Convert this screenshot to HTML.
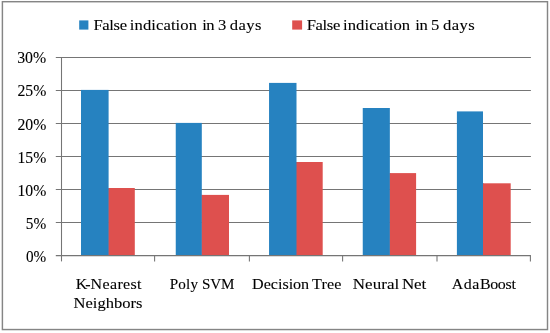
<!DOCTYPE html><html><head><meta charset="utf-8"><title>chart</title><style>html,body{margin:0;padding:0;background:#fff}svg{display:block}text{font-family:"Liberation Serif",serif;fill:#000;stroke:#000;stroke-width:0.1}</style></head><body>
<svg width="550" height="333" viewBox="0 0 550 333">
<rect width="550" height="333" fill="#fff"/>
<rect x="2.4" y="1.7" width="545.1" height="327.85" fill="#fff" stroke="#858585" stroke-width="1.45"/>
<line x1="55.8" y1="222.57" x2="530.9" y2="222.57" stroke="#757575" stroke-width="1.08"/>
<line x1="55.8" y1="189.54" x2="530.9" y2="189.54" stroke="#757575" stroke-width="1.08"/>
<line x1="55.8" y1="156.51" x2="530.9" y2="156.51" stroke="#757575" stroke-width="1.08"/>
<line x1="55.8" y1="123.48" x2="530.9" y2="123.48" stroke="#757575" stroke-width="1.08"/>
<line x1="55.8" y1="90.45" x2="530.9" y2="90.45" stroke="#757575" stroke-width="1.08"/>
<line x1="55.8" y1="57.42" x2="530.9" y2="57.42" stroke="#757575" stroke-width="1.08"/>
<rect x="81.0" y="89.9" width="27.60" height="165.70" fill="#2682c0"/>
<rect x="108.1" y="188.0" width="1.2" height="67.60" fill="#2682c0"/>
<rect x="108.6" y="188.0" width="26.20" height="67.60" fill="#de504e"/>
<rect x="175.75" y="122.9" width="26.05" height="132.70" fill="#2682c0"/>
<rect x="201.3" y="194.9" width="1.2" height="60.70" fill="#2682c0"/>
<rect x="201.8" y="194.9" width="27.20" height="60.70" fill="#de504e"/>
<rect x="269.05" y="82.9" width="27.45" height="172.70" fill="#2682c0"/>
<rect x="296.0" y="162.0" width="1.2" height="93.60" fill="#2682c0"/>
<rect x="296.5" y="162.0" width="26.20" height="93.60" fill="#de504e"/>
<rect x="362.75" y="108.0" width="27.10" height="147.60" fill="#2682c0"/>
<rect x="389.35" y="173.1" width="1.2" height="82.50" fill="#2682c0"/>
<rect x="389.85" y="173.1" width="26.25" height="82.50" fill="#de504e"/>
<rect x="456.9" y="111.4" width="26.10" height="144.20" fill="#2682c0"/>
<rect x="482.5" y="183.3" width="1.2" height="72.30" fill="#2682c0"/>
<rect x="483.0" y="183.3" width="27.70" height="72.30" fill="#de504e"/>
<line x1="61.5" y1="57.42" x2="61.5" y2="261.4" stroke="#757575" stroke-width="1.08"/>
<line x1="55.8" y1="255.60" x2="530.9" y2="255.60" stroke="#757575" stroke-width="1.08"/>
<line x1="154.6" y1="255.60" x2="154.6" y2="261.4" stroke="#757575" stroke-width="1.08"/>
<line x1="249.4" y1="255.60" x2="249.4" y2="261.4" stroke="#757575" stroke-width="1.08"/>
<line x1="342.6" y1="255.60" x2="342.6" y2="261.4" stroke="#757575" stroke-width="1.08"/>
<line x1="437.0" y1="255.60" x2="437.0" y2="261.4" stroke="#757575" stroke-width="1.08"/>
<line x1="530.4" y1="255.60" x2="530.4" y2="261.4" stroke="#757575" stroke-width="1.08"/>
<text x="17.18" y="63.4" font-size="16.3" textLength="29.04" lengthAdjust="spacingAndGlyphs">30%</text>
<text x="17.38" y="96.4" font-size="16.3" textLength="28.89" lengthAdjust="spacingAndGlyphs">25%</text>
<text x="17.38" y="129.5" font-size="16.3" textLength="28.89" lengthAdjust="spacingAndGlyphs">20%</text>
<text x="17.45" y="162.5" font-size="16.3" textLength="28.81" lengthAdjust="spacingAndGlyphs">15%</text>
<text x="17.45" y="195.5" font-size="16.3" textLength="28.81" lengthAdjust="spacingAndGlyphs">10%</text>
<text x="25.75" y="228.6" font-size="16.3" textLength="20.42" lengthAdjust="spacingAndGlyphs">5%</text>
<text x="26.00" y="261.6" font-size="16.3" textLength="20.27" lengthAdjust="spacingAndGlyphs">0%</text>
<text transform="scale(1.0403,1)" x="72.87 81.97 87.00 98.63 105.78 112.93 118.30 125.45 131.73" y="288.55" font-size="15.4">K-Nearest</text>
<text transform="scale(1.0735,1)" x="68.56 79.67 86.49 90.78 98.46 106.17 113.85 121.56 126.68" y="308.45" font-size="15.4">Neighbors</text>
<text transform="scale(0.9833,1)" x="172.61 181.36 189.25 193.62 201.86 205.46 213.79 224.64" y="288.55" font-size="15.4">Poly SVM</text>
<text transform="scale(1.0486,1)" x="240.42 251.47 258.26 265.06 269.31 275.27 279.53 287.17 295.15 297.60 306.56 311.75 318.66" y="288.55" font-size="15.4">Decision Tree</text>
<text transform="scale(1.1026,1)" x="319.97 331.13 338.00 345.74 350.89 357.76 362.24 364.59 375.58 382.33" y="288.55" font-size="15.4">Neural Net</text>
<text transform="scale(1.0339,1)" x="436.87 448.57 456.67 464.16 474.08 481.54 488.99 494.80" y="288.55" font-size="15.4">AdaBoost</text>
<text transform="scale(1.0784,1)" x="86.65 94.78 101.29 105.35 111.04 117.86 120.39 124.72 132.53 140.32 144.66 151.58 158.50 162.84 167.17 174.97 182.96 187.44 191.30 199.37 202.18 209.58 213.16 221.23 228.41 236.50" y="30.4" font-size="15.4">False indication in 3 days</text>
<text transform="scale(1.0793,1)" x="284.10 292.22 298.72 302.78 308.46 315.28 317.81 322.13 329.93 337.71 342.05 348.96 355.88 360.21 364.54 372.33 380.32 384.80 388.65 396.72 399.40 406.91 410.49 418.56 425.72 433.81" y="30.4" font-size="15.4">False indication in 5 days</text>
<rect x="79.2" y="20.4" width="9.2" height="9.2" fill="#2682c0"/>
<rect x="292.2" y="20.4" width="9.9" height="9.2" fill="#de504e"/>
</svg></body></html>
